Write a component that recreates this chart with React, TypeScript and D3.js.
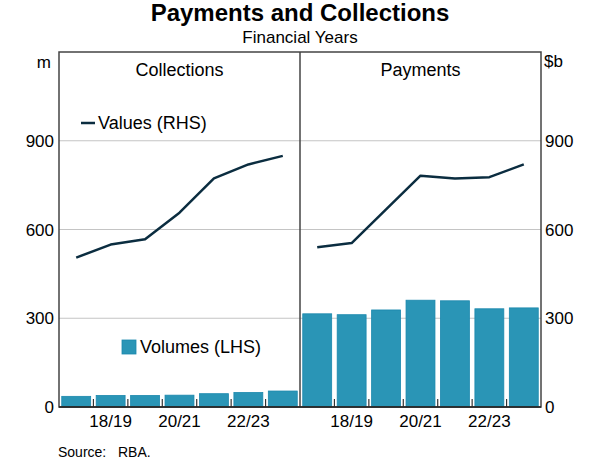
import React from 'react';
import * as d3 from 'd3';

// financial years on the x axis
const years = ['17/18', '18/19', '19/20', '20/21', '21/22', '22/23', '23/24'];
const shownYears = ['18/19', '20/21', '22/23'];
// volumes, millions (LHS)
const collectionsVolumes = [36, 39, 39, 40, 45, 49, 54];
const paymentsVolumes = [315, 312, 328, 361, 359, 332, 335];
// values, $b (RHS)
const collectionsValues = [505, 549, 567, 657, 773, 820, 849];
const paymentsValues = [540, 554, 668, 782, 772, 777, 820];
const yTicks = [0, 300, 600, 900];

const W = 600;
const H = 463;
const left = 59;
const right = 541;
const mid = 300;
const top = 52;
const bottom = 407;
const font = 'Liberation Sans, Arial, sans-serif';
const barColor = '#2a95b6';
const barEdge = '#1b88ad';
const lineColor = '#0b2d40';

const y = d3.scaleLinear().domain([0, 1200]).range([bottom, top]);

function Panel({ x0, x1, title, volumes, values }) {
  const x = d3.scaleBand<string>().domain(years).range([x0, x1]).paddingInner(0.16).paddingOuter(0.08);
  const step = x.step();
  const line = d3.line<number>()
    .x((_, i) => (x(years[i]) as number) + x.bandwidth() / 2)
    .y(d => y(d));
  return (
    <g>
      {volumes.map((v, i) => (
        <rect key={years[i]} x={x(years[i])} y={y(v)} width={x.bandwidth()} height={bottom - y(v)}
          fill={barColor} stroke={barEdge} strokeWidth={0.8} />
      ))}
      {years.slice(1).map(yr => {
        const tx = (x(yr) as number) - (step * 0.16) / 2;
        return <line key={yr} x1={tx} x2={tx} y1={bottom} y2={bottom - 8} stroke="#333" strokeWidth={1.2} />;
      })}
      {shownYears.map(yr => (
        <text key={yr} x={(x(yr) as number) + x.bandwidth() / 2} y={427} textAnchor="middle" fontSize={17}>{yr}</text>
      ))}
      <path d={line(values) || ''} fill="none" stroke={lineColor} strokeWidth={2.5} strokeLinejoin="round" />
      <text x={(x0 + x1) / 2} y={76} textAnchor="middle" fontSize={18}>{title}</text>
    </g>
  );
}

export default function App() {
  return (
    <svg width={W} height={H} style={{ position: 'absolute', left: 0, top: 0, background: '#fff' }} fontFamily={font}>
      <rect width={W} height={H} fill="#fff" />
      <text x={W / 2} y={21} textAnchor="middle" fontSize={24} fontWeight="bold">Payments and Collections</text>
      <text x={W / 2} y={43} textAnchor="middle" fontSize={17}>Financial Years</text>

      {yTicks.filter(t => t > 0).map(t => (
        <line key={t} x1={left} x2={right} y1={y(t)} y2={y(t)} stroke="#c4c4c4" strokeWidth={1.2} />
      ))}

      <Panel x0={left} x1={mid} title="Collections" volumes={collectionsVolumes} values={collectionsValues} />
      <Panel x0={mid} x1={right} title="Payments" volumes={paymentsVolumes} values={paymentsValues} />

      <rect x={left} y={top} width={right - left} height={bottom - top} fill="none" stroke="#444" strokeWidth={1.5} />
      <line x1={mid} x2={mid} y1={top} y2={bottom} stroke="#444" strokeWidth={1.5} />
      <line x1={left} x2={right} y1={bottom} y2={bottom} stroke="#222" strokeWidth={1.5} />

      {yTicks.map(t => (
        <g key={t}>
          <text x={54} y={y(t) + 6} textAnchor="end" fontSize={17}>{t}</text>
          <text x={545} y={y(t) + 6} textAnchor="start" fontSize={17}>{t}</text>
        </g>
      ))}
      <text x={51} y={68} textAnchor="end" fontSize={17}>m</text>
      <text x={544} y={67} textAnchor="start" fontSize={17}>$b</text>

      <line x1={81} x2={95} y1={123} y2={123} stroke={lineColor} strokeWidth={2.5} />
      <text x={98} y={129} fontSize={18}>Values (RHS)</text>
      <rect x={122} y={340} width={14} height={14} fill={barColor} stroke={barEdge} strokeWidth={0.8} />
      <text x={140} y={353} fontSize={18}>Volumes (LHS)</text>

      <text x={58} y={457} fontSize={14}>Source:</text>
      <text x={118} y={457} fontSize={14}>RBA.</text>
    </svg>
  );
}
